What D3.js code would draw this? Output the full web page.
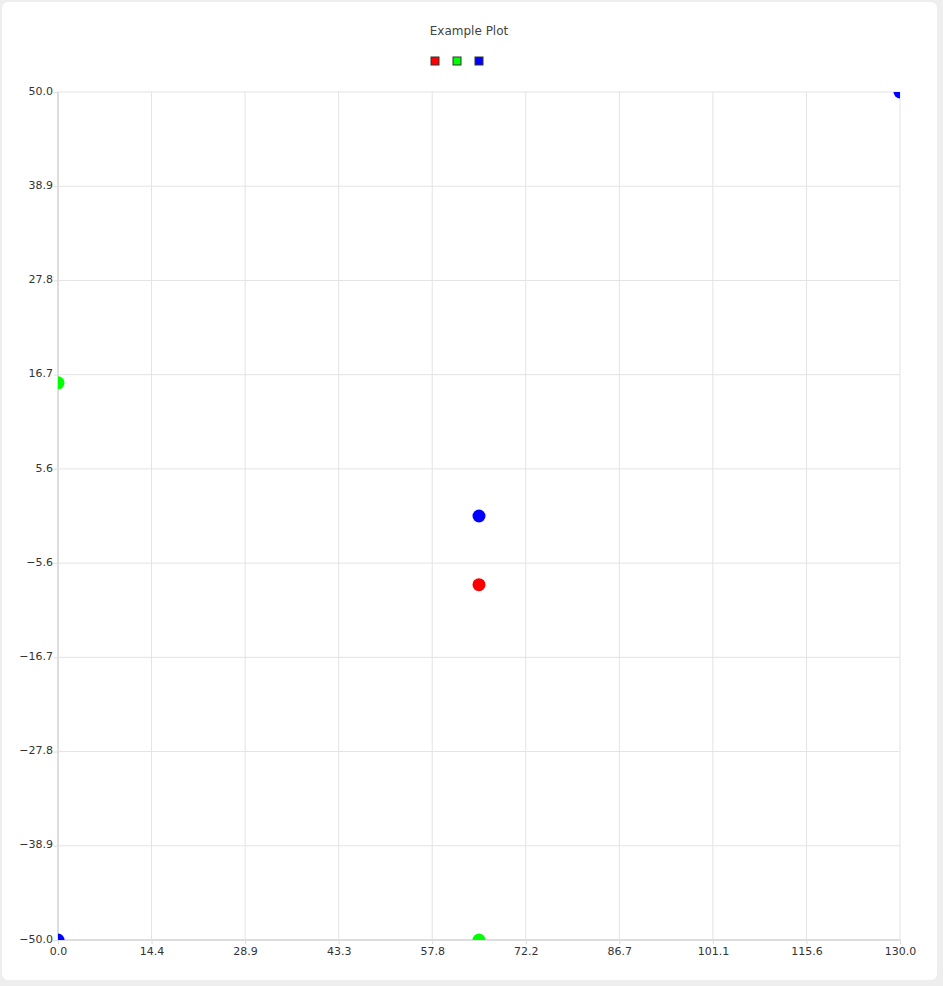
<!DOCTYPE html>
<html><head><meta charset="utf-8">
<script src="https://cdn.jsdelivr.net/npm/d3@7"></script>
<style>
body{margin:0;background:#eeeeee;font-family:"DejaVu Sans",sans-serif;}
#card{position:absolute;left:2px;top:2px;width:935px;height:978px;background:#fff;border-radius:6px;}
</style></head><body>
<div id="card"><svg width="935" height="978"></svg></div>
<script>
const seriesNames = ["red", "green", "blue"];
const seriesColors = ["#ff0000", "#00ff00", "#0000ff"];
const redPoints = [[65, -8.1]];
const greenPoints = [[0, 15.7], [65, -50]];
const bluePoints = [[130, 50], [65, 0], [0, -50]];
const xTicks = d3.range(10).map(i => i * 130 / 9);
const yTicks = d3.range(10).map(i => -50 + i * 100 / 9);

const svg = d3.select("svg");
const margin = { top: 90, left: 56, right: 35, bottom: 40 };
const width = 842, height = 848;
const g = svg.append("g").attr("transform", `translate(${margin.left},${margin.top})`);

const x = d3.scaleLinear().domain([0, 130]).range([0, width]);
const y = d3.scaleLinear().domain([-50, 50]).range([height, 0]);

// grid
g.selectAll(".vg").data(xTicks).enter().append("line")
  .attr("x1", d => x(d)).attr("x2", d => x(d)).attr("y1", 0).attr("y2", height)
  .attr("stroke", "#e3e3e3");
g.selectAll(".hg").data(yTicks).enter().append("line")
  .attr("y1", d => y(d)).attr("y2", d => y(d)).attr("x1", 0).attr("x2", width)
  .attr("stroke", "#e3e3e3");
g.append("line").attr("x1", 0).attr("x2", 0).attr("y1", 0).attr("y2", height).attr("stroke", "#ddd").attr("stroke-width", 2);
g.append("line").attr("x1", 0).attr("x2", width).attr("y1", height).attr("y2", height).attr("stroke", "#ddd").attr("stroke-width", 2);

const xa = g.append("g").attr("transform", `translate(0,${height})`)
  .call(d3.axisBottom(x).tickValues(xTicks).tickFormat(d3.format(".1f")).tickSize(4));
const ya = g.append("g")
  .call(d3.axisLeft(y).tickValues(yTicks).tickFormat(d3.format(".1f")).tickSize(4).tickPadding(1));
[xa, ya].forEach(a => {
  a.select(".domain").remove();
  a.selectAll("line").attr("stroke", "#ddd");
  a.selectAll("text").attr("fill", "#333").style("font-size", "11px").style("font-family", "DejaVu Sans");
});
ya.selectAll("text").attr("dy", "0.2em");

g.append("clipPath").attr("id", "clip").append("rect").attr("width", width).attr("height", height);
const pts = g.append("g").attr("clip-path", "url(#clip)");
[redPoints, greenPoints, bluePoints].forEach((arr, i) => {
  pts.selectAll(null).data(arr).enter().append("circle")
    .attr("cx", d => x(d[0])).attr("cy", d => y(d[1])).attr("r", 6.5)
    .attr("fill", seriesColors[i]);
});

svg.append("text").attr("x", 467).attr("y", 33).attr("text-anchor", "middle")
  .attr("fill", "#444").style("font-size", "12px").text("Example Plot");
svg.selectAll(".lg").data(seriesNames).enter().append("rect")
  .attr("x", (d, i) => 429 + i * 22).attr("y", 55).attr("width", 8).attr("height", 8)
  .attr("fill", (d, i) => seriesColors[i]).attr("stroke", "#333");
</script></body></html>
